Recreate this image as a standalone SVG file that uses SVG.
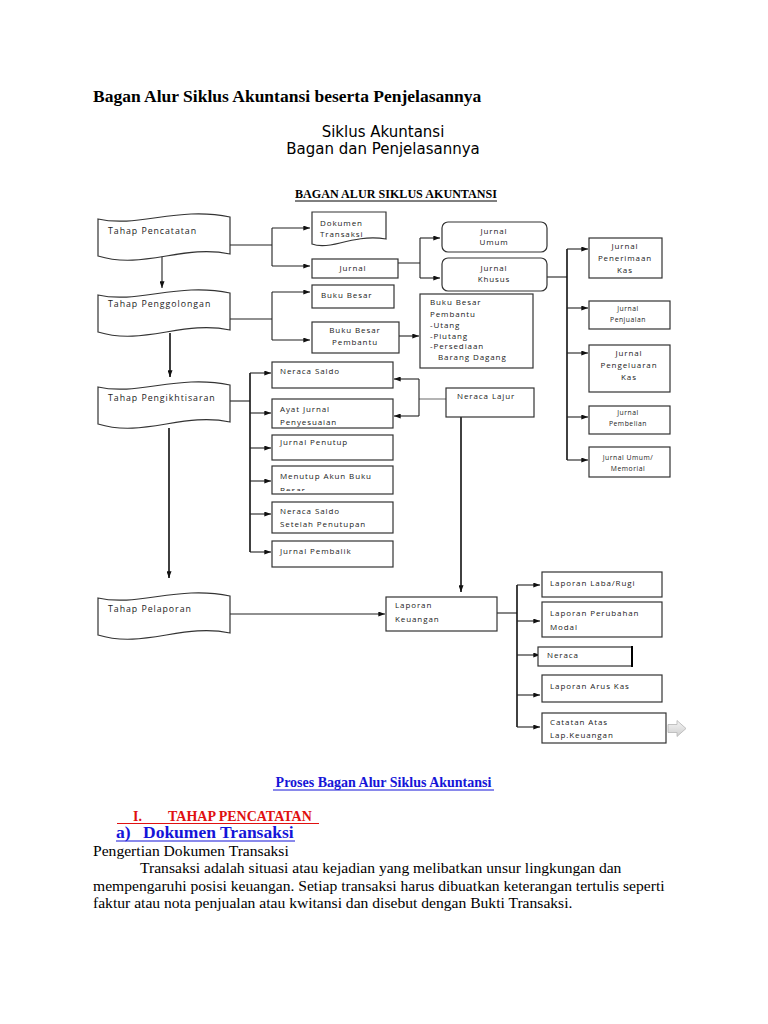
<svg xmlns="http://www.w3.org/2000/svg" width="768" height="1024" viewBox="0 0 768 1024">
<style>
.bx{fill:#fff;stroke:#333;stroke-width:1.2}
.t{font-family:"Open Sans","DejaVu Sans",sans-serif;font-size:8px;fill:#222;letter-spacing:0.9px}
.tt{font-family:"Open Sans","DejaVu Sans",sans-serif;font-size:8.8px;fill:#222;letter-spacing:0.95px}
.ts{font-family:"Open Sans","DejaVu Sans",sans-serif;font-size:6.8px;fill:#222;letter-spacing:0.5px}
.c{text-anchor:middle}
.ln{fill:none;stroke:#222;stroke-width:1.1}
.lk{fill:none;stroke:#111;stroke-width:1.6}
.sr{font-family:"Liberation Serif","Times New Roman",serif}
</style>
<defs>
<marker id="ah" viewBox="0 0 8 6" refX="8" refY="3" markerWidth="7" markerHeight="5" orient="auto" markerUnits="userSpaceOnUse"><path d="M0,0 L8,3 L0,6 z" fill="#111"/></marker>
<path id="tape" d="M0,5 C40,14 80,-8 132,3 L132,40 C85,30 45,56 0,42 Z"/>
<clipPath id="clipMB"><rect x="272" y="466" width="121" height="25"/></clipPath>
<linearGradient id="ga" x1="0" y1="0" x2="0" y2="1"><stop offset="0" stop-color="#f4f4f4"/><stop offset="1" stop-color="#cfcfcf"/></linearGradient>
</defs>
<rect width="768" height="1024" fill="#fff"/>

<text class="sr" x="93" y="102" font-size="17.5" font-weight="bold" fill="#000">Bagan Alur Siklus Akuntansi beserta Penjelasannya</text>
<text x="383" y="137" font-family="DejaVu Sans,Verdana,sans-serif" font-size="15" text-anchor="middle" fill="#000">Siklus Akuntansi</text>
<text x="383" y="154" font-family="DejaVu Sans,Verdana,sans-serif" font-size="15" text-anchor="middle" fill="#000">Bagan dan Penjelasannya</text>
<text class="sr" x="295" y="198" font-size="11.5" font-weight="bold" fill="#000" textLength="202" lengthAdjust="spacingAndGlyphs">BAGAN ALUR SIKLUS AKUNTANSI</text>
<line x1="295" y1="201" x2="497" y2="201" stroke="#000" stroke-width="1"/>

<g id="connectors">
<path class="ln" d="M230,245 H272 M272,228 V266"/>
<path class="ln" d="M272,228 H310" marker-end="url(#ah)"/>
<path class="ln" d="M272,266 H310" marker-end="url(#ah)"/>
<path class="ln" d="M398,263 H420 M420,238 V278"/>
<path class="ln" d="M420,238 H440" marker-end="url(#ah)"/>
<path class="ln" d="M420,278 H440" marker-end="url(#ah)"/>
<path class="ln" d="M547,277 H567"/>
<path class="lk" d="M567,249 V460"/>
<path class="ln" d="M567,249 H588" marker-end="url(#ah)"/>
<path class="ln" d="M567,308 H588" marker-end="url(#ah)"/>
<path class="ln" d="M567,353 H588" marker-end="url(#ah)"/>
<path class="ln" d="M567,417 H588" marker-end="url(#ah)"/>
<path class="ln" d="M567,460 H588" marker-end="url(#ah)"/>
<path class="ln" d="M230,319 H272 M272,292 V340"/>
<path class="ln" d="M272,292 H310" marker-end="url(#ah)"/>
<path class="ln" d="M272,340 H310" marker-end="url(#ah)"/>
<path class="ln" d="M399,336 H419" marker-end="url(#ah)"/>
<path class="ln" d="M162,255 V288" marker-end="url(#ah)"/>
<path class="lk" d="M170,333 V377" marker-end="url(#ah)"/>
<path class="ln" d="M230,401 H250"/>
<path class="lk" d="M250,373 V552"/>
<path class="ln" d="M250,373 H271" marker-end="url(#ah)"/>
<path class="ln" d="M250,413 H271" marker-end="url(#ah)"/>
<path class="ln" d="M250,448 H271" marker-end="url(#ah)"/>
<path class="ln" d="M250,481 H271" marker-end="url(#ah)"/>
<path class="ln" d="M250,514 H271" marker-end="url(#ah)"/>
<path class="ln" d="M250,552 H271" marker-end="url(#ah)"/>
<path d="M446,399 H419" fill="none" stroke="#777" stroke-width="1.1"/>
<path class="ln" d="M419,379 V416"/>
<path class="ln" d="M419,379 H394" marker-end="url(#ah)"/>
<path class="ln" d="M419,416 H394" marker-end="url(#ah)"/>
<path class="lk" d="M461,417 V592" marker-end="url(#ah)"/>
<path class="lk" d="M169,428 V578" marker-end="url(#ah)"/>
<path class="ln" d="M230,614 H385" marker-end="url(#ah)"/>
<path class="ln" d="M497,613 H517"/>
<path class="lk" d="M517,585 V727"/>
<path class="ln" d="M517,585 H540" marker-end="url(#ah)"/>
<path class="ln" d="M517,621 H540" marker-end="url(#ah)"/>
<path class="ln" d="M517,655 H540" marker-end="url(#ah)"/>
<path class="ln" d="M517,695 H540" marker-end="url(#ah)"/>
<path class="ln" d="M517,727 H540" marker-end="url(#ah)"/>
</g>

<g id="tahap-pencatatan"><use href="#tape" x="98" y="214" class="bx"/><text class="tt" x="108" y="234">Tahap Pencatatan</text></g>
<g id="tahap-penggolongan"><use href="#tape" x="98" y="290" class="bx"/><text class="tt" x="108" y="307">Tahap Penggolongan</text></g>
<g id="tahap-pengikhtisaran"><use href="#tape" x="98" y="382" class="bx"/><text class="tt" x="108" y="401">Tahap Pengikhtisaran</text></g>
<g id="tahap-pelaporan"><use href="#tape" x="98" y="593" class="bx"/><text class="tt" x="108" y="612">Tahap Pelaporan</text></g>

<g id="dokumen-transaksi"><path class="bx" d="M312,212 H386 V239 C368,236 352,240 340,243 C328,246 320,247 312,244 Z"/><text class="t" x="320" y="226">Dokumen</text><text class="t" x="320" y="237">Transaksi</text></g>
<g id="jurnal"><rect class="bx" x="312" y="259" width="86" height="19"/><text class="t c" x="353" y="271">Jurnal</text></g>
<g id="jurnal-umum"><rect class="bx" x="442" y="222" width="105" height="30" rx="6"/><text class="t c" x="494" y="234">Jurnal</text><text class="t c" x="494" y="245">Umum</text></g>
<g id="jurnal-khusus"><rect class="bx" x="442" y="258" width="105" height="33" rx="6"/><text class="t c" x="494" y="271">Jurnal</text><text class="t c" x="494" y="282">Khusus</text></g>

<g id="jurnal-penerimaan-kas"><rect class="bx" x="589" y="238" width="73" height="40"/><text class="t c" x="625" y="249" letter-spacing="0.5">Jurnal</text><text class="t c" x="625" y="261" letter-spacing="0.5">Penerimaan</text><text class="t c" x="625" y="273" letter-spacing="0.5">Kas</text></g>
<g id="jurnal-penjualan"><rect class="bx" x="589" y="301" width="81" height="28"/><text class="ts c" x="628" y="311">Jurnal</text><text class="ts c" x="628" y="322">Penjualan</text></g>
<g id="jurnal-pengeluaran-kas"><rect class="bx" x="589" y="345" width="81" height="47"/><text class="t c" x="629" y="356" letter-spacing="0.5">Jurnal</text><text class="t c" x="629" y="368" letter-spacing="0.5">Pengeluaran</text><text class="t c" x="629" y="380" letter-spacing="0.5">Kas</text></g>
<g id="jurnal-pembelian"><rect class="bx" x="589" y="406" width="81" height="28"/><text class="ts c" x="628" y="415">Jurnal</text><text class="ts c" x="628" y="426">Pembelian</text></g>
<g id="jurnal-umum-memorial"><rect class="bx" x="589" y="447" width="81" height="30"/><text class="ts c" x="628" y="460">Jurnal Umum/</text><text class="ts c" x="628" y="471">Memorial</text></g>

<g id="buku-besar"><rect class="bx" x="312" y="285" width="82" height="23"/><text class="t" x="321" y="298">Buku Besar</text></g>
<g id="buku-besar-pembantu"><rect class="bx" x="312" y="322" width="87" height="31"/><text class="t c" x="355" y="333">Buku Besar</text><text class="t c" x="355" y="345">Pembantu</text></g>
<g id="buku-besar-pembantu-list"><rect class="bx" x="420" y="294" width="113" height="74"/>
<text class="t" x="430" y="305">Buku Besar</text><text class="t" x="430" y="317">Pembantu</text><text class="t" x="430" y="328">-Utang</text><text class="t" x="430" y="339">-Piutang</text><text class="t" x="430" y="349">-Persediaan</text><text class="t" x="438" y="360">Barang Dagang</text></g>

<g id="neraca-saldo"><rect class="bx" x="272" y="362" width="121" height="26"/><text class="t" x="280" y="374" letter-spacing="0.3">Neraca Saldo</text></g>
<g id="ayat-jurnal-penyesuaian"><rect class="bx" x="272" y="399" width="121" height="29"/><text class="t" x="280" y="412">Ayat Jurnal</text><text class="t" x="280" y="425">Penyesuaian</text></g>
<g id="jurnal-penutup"><rect class="bx" x="272" y="435" width="121" height="25"/><text class="t" x="280" y="445">Jurnal Penutup</text></g>
<g id="menutup-akun-buku-besar"><rect class="bx" x="272" y="466" width="121" height="28"/><text class="t" x="280" y="479">Menutup Akun Buku</text><text class="t" x="280" y="493" clip-path="url(#clipMB)">Besar</text></g>
<g id="neraca-saldo-setelah-penutupan"><rect class="bx" x="272" y="502" width="121" height="31"/><text class="t" x="280" y="514">Neraca Saldo</text><text class="t" x="280" y="527">Setelah Penutupan</text></g>
<g id="jurnal-pembalik"><rect class="bx" x="272" y="541" width="121" height="26"/><text class="t" x="280" y="554">Jurnal Pembalik</text></g>
<g id="neraca-lajur"><rect class="bx" x="446" y="388" width="88" height="29"/><text class="t" x="457" y="399">Neraca Lajur</text></g>

<g id="laporan-keuangan"><rect class="bx" x="386" y="597" width="111" height="34"/><text class="t" x="395" y="608">Laporan</text><text class="t" x="395" y="622">Keuangan</text></g>
<g id="laporan-laba-rugi"><rect class="bx" x="542" y="572" width="120" height="25"/><text class="t" x="550" y="586" letter-spacing="0.4">Laporan Laba/Rugi</text></g>
<g id="laporan-perubahan-modal"><rect class="bx" x="542" y="602" width="120" height="35"/><text class="t" x="550" y="616">Laporan Perubahan</text><text class="t" x="550" y="630">Modal</text></g>
<g id="neraca"><rect class="bx" x="538" y="647" width="94" height="19"/><line x1="632" y1="646" x2="632" y2="667" stroke="#000" stroke-width="2"/><text class="t" x="547" y="658">Neraca</text></g>
<g id="laporan-arus-kas"><rect class="bx" x="542" y="675" width="120" height="27"/><text class="t" x="550" y="689" letter-spacing="0.5">Laporan Arus Kas</text></g>
<g id="catatan-atas-lap-keuangan"><rect class="bx" x="542" y="713" width="124" height="30"/><text class="t" x="550" y="725">Catatan Atas</text><text class="t" x="550" y="738">Lap.Keuangan</text></g>
<g id="next-arrow"><path d="M668,724.5 H677 V720.5 L686,728.5 L677,736.5 V732.5 H668 Z" fill="url(#ga)" stroke="#b5b5b5" stroke-width="0.8"/></g>

<g id="text-body">
<text class="sr" x="383.5" y="787" font-size="14" font-weight="bold" fill="#1515d8" text-anchor="middle">Proses Bagan Alur Siklus Akuntansi</text>
<line x1="273" y1="790" x2="494" y2="790" stroke="#1515d8" stroke-width="1"/>
<text class="sr" x="133" y="820.5" font-size="14" font-weight="bold" fill="#e01010">I.</text>
<text class="sr" x="168" y="820.5" font-size="14" font-weight="bold" fill="#e01010">TAHAP PENCATATAN</text>
<line x1="117" y1="823.5" x2="319" y2="823.5" stroke="#e01010" stroke-width="1"/>
<text class="sr" x="116" y="838" font-size="17.5" font-weight="bold" fill="#1515d8">a)</text>
<text class="sr" x="143" y="838" font-size="17.5" font-weight="bold" fill="#1515d8">Dokumen Transaksi</text>
<line x1="116" y1="841" x2="295" y2="841" stroke="#1515d8" stroke-width="1.2"/>
<text class="sr" x="93" y="855.5" font-size="15.6" fill="#000">Pengertian Dokumen Transaksi</text>
<text class="sr" x="140" y="873" font-size="15.6" fill="#000">Transaksi adalah situasi atau kejadian yang melibatkan unsur lingkungan dan</text>
<text class="sr" x="93" y="890.5" font-size="15.6" fill="#000">mempengaruhi posisi keuangan. Setiap transaksi harus dibuatkan keterangan tertulis seperti</text>
<text class="sr" x="93" y="908" font-size="15.6" fill="#000">faktur atau nota penjualan atau kwitansi dan disebut dengan Bukti Transaksi.</text>
</g>
</svg>
